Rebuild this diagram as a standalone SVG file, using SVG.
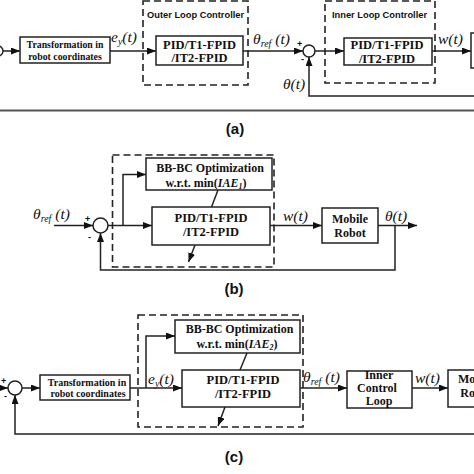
<svg xmlns="http://www.w3.org/2000/svg" width="474" height="474" viewBox="0 0 474 474">
<defs>
<marker id="ah" viewBox="0 0 9 7" refX="9" refY="3.5" markerWidth="9" markerHeight="7" markerUnits="userSpaceOnUse" orient="auto">
<path d="M0,0 L9,3.5 L0,7 z" fill="#111"/>
</marker>
<style>
.box{fill:#fff;stroke:#222;stroke-width:1.5}
.dash{fill:none;stroke:#222;stroke-width:1.6;stroke-dasharray:7 4}
.ln{fill:none;stroke:#222;stroke-width:1.5}
.arr{fill:none;stroke:#222;stroke-width:1.5;marker-end:url(#ah)}
.n{font-family:"Liberation Serif","Times New Roman",serif;font-weight:bold;fill:#111;text-anchor:middle}
.m{font-family:"Liberation Serif","Times New Roman",serif;font-style:italic;font-size:15.5px;fill:#111}
.s{font-family:"Liberation Sans",Arial,sans-serif;font-weight:bold;fill:#111}
.sg{font-family:"Liberation Sans",Arial,sans-serif;fill:#111;font-size:9px;font-weight:bold}
.p{font-family:"Liberation Sans",Arial,sans-serif;font-weight:bold;font-size:15px;fill:#111;text-anchor:middle}
</style>
</defs>
<rect width="474" height="474" fill="#fff"/>

<!-- ===== Part (a) ===== -->
<g id="a-outer-loop">
<rect class="dash" x="143" y="1" width="105" height="84"/>
<text class="s" x="147" y="18" font-size="9.3">Outer Loop Controller</text>
</g>
<g id="a-inner-loop">
<rect class="dash" x="325" y="1" width="110" height="82"/>
<text class="s" x="332" y="18" font-size="9.3">Inner Loop  Controller</text>
</g>
<g id="a-input">
<circle cx="-2" cy="51" r="5" fill="#fff" stroke="#222" stroke-width="1.5"/>
</g>
<g id="a-transform">
<rect class="box" x="20" y="37" width="90" height="26"/>
<text class="n" x="65" y="47.5" font-size="9.8">Transformation in</text>
<text class="n" x="65" y="59.5" font-size="9.8">robot coordinates</text>
</g>
<g id="a-pid-outer">
<rect class="box" x="156" y="36" width="87" height="29"/>
<text class="n" x="199.5" y="48.5" font-size="12.5">PID/T1-FPID</text>
<text class="n" x="199.5" y="62" font-size="12.5">/IT2-FPID</text>
</g>
<g id="a-sum">
<circle cx="309" cy="51" r="6" fill="#fff" stroke="#222" stroke-width="1.5"/>
<text class="sg" x="297" y="47">+</text>
<text class="sg" x="301" y="62">-</text>
</g>
<g id="a-pid-inner">
<rect class="box" x="344" y="38" width="88" height="27"/>
<text class="n" x="387" y="49" font-size="12.5">PID/T1-FPID</text>
<text class="n" x="387" y="62.5" font-size="12.5">/IT2-FPID</text>
</g>
<g id="a-robot">
<rect class="box" x="471" y="33" width="20" height="35"/>
</g>
<g id="a-labels">
<text class="m" x="111" y="42">e<tspan font-size="10" dy="3">y</tspan><tspan dy="-3">(t)</tspan></text>
<text class="m" x="253" y="44">θ<tspan font-size="10" dy="3">ref</tspan><tspan dy="-3"> (t)</tspan></text>
<text class="m" x="438" y="44">w(t)</text>
<text class="m" x="283" y="89">θ(t)</text>
</g>
<g id="a-connectors">
<line class="arr" x1="3" y1="51" x2="20" y2="51"/>
<line class="arr" x1="110" y1="51" x2="156" y2="51"/>
<line class="arr" x1="243" y1="51" x2="303" y2="51"/>
<line class="arr" x1="315" y1="51" x2="344" y2="51"/>
<line class="arr" x1="432" y1="51" x2="471" y2="51"/>
<polyline class="arr" points="474,96 309,96 309,57"/>
</g>
<line x1="0" y1="110.5" x2="474" y2="110.5" stroke="#555" stroke-width="2"/>
<text class="p" x="235" y="134">(a)</text>

<!-- ===== Part (b) ===== -->
<g id="b-controller">
<rect class="dash" x="112.5" y="155" width="161.5" height="112"/>
</g>
<g id="b-bbbc">
<rect class="box" x="146" y="158" width="126" height="32"/>
<text class="n" x="210" y="172" font-size="12">BB-BC Optimization</text>
<text class="n" x="206" y="186.5" font-size="12">w.r.t. min(<tspan font-style="italic">IAE<tspan font-size="8" dy="2">1</tspan></tspan><tspan dy="-2">)</tspan></text>
</g>
<g id="b-pid">
<rect class="box" x="152" y="207" width="118" height="38"/>
<text class="n" x="211" y="222" font-size="12.5">PID/T1-FPID</text>
<text class="n" x="211" y="235.5" font-size="12.5">/IT2-FPID</text>
</g>
<g id="b-sum">
<circle cx="100.5" cy="225.5" r="7.5" fill="#fff" stroke="#222" stroke-width="1.5"/>
<text class="sg" x="85" y="222">+</text>
<text class="sg" x="88" y="240">-</text>
</g>
<g id="b-robot">
<rect class="box" x="322" y="208" width="56" height="35"/>
<text class="n" x="350" y="223" font-size="12">Mobile</text>
<text class="n" x="350" y="237" font-size="12">Robot</text>
</g>
<g id="b-labels">
<text class="m" x="33" y="219">θ<tspan font-size="10" dy="3">ref</tspan><tspan dy="-3"> (t)</tspan></text>
<text class="m" x="283" y="221">w(t)</text>
<text class="m" x="385" y="221">θ(t)</text>
</g>
<g id="b-connectors">
<line class="arr" x1="54" y1="225.5" x2="93" y2="225.5"/>
<line class="arr" x1="108" y1="225.5" x2="152" y2="225.5"/>
<polyline class="arr" points="123,225.5 123,174.5 146,174.5"/>
<line class="ln" x1="211.5" y1="207" x2="218" y2="190"/>
<line class="arr" x1="195" y1="245" x2="188.5" y2="262"/>
<line class="arr" x1="270" y1="225.5" x2="322" y2="225.5"/>
<line class="arr" x1="378" y1="225.5" x2="417" y2="225.5"/>
<polyline class="arr" points="395,225.5 395,270 100.5,270 100.5,233"/>
</g>
<text class="p" x="234" y="294">(b)</text>

<!-- ===== Part (c) ===== -->
<g id="c-controller">
<rect class="dash" x="138" y="315" width="165" height="112"/>
</g>
<g id="c-bbbc">
<rect class="box" x="175" y="320" width="125" height="33"/>
<text class="n" x="239.5" y="333" font-size="12">BB-BC Optimization</text>
<text class="n" x="237" y="347.5" font-size="12">w.r.t. min(<tspan font-style="italic">IAE<tspan font-size="8" dy="2">2</tspan></tspan><tspan dy="-2">)</tspan></text>
</g>
<g id="c-pid">
<rect class="box" x="182" y="370" width="118" height="37"/>
<text class="n" x="243" y="383.5" font-size="12.5">PID/T1-FPID</text>
<text class="n" x="243" y="398" font-size="12.5">/IT2-FPID</text>
</g>
<g id="c-sum">
<circle cx="15" cy="388" r="7" fill="#fff" stroke="#222" stroke-width="1.5"/>
<text class="sg" x="1" y="384">+</text>
<text class="sg" x="4" y="399">-</text>
</g>
<g id="c-transform">
<rect class="box" x="40" y="375" width="90" height="25"/>
<text class="n" x="87" y="385.5" font-size="10">Transformation in</text>
<text class="n" x="88" y="397" font-size="10">robot coordinates</text>
</g>
<g id="c-inner">
<rect class="box" x="347" y="371" width="65" height="37"/>
<text class="n" x="379" y="379" font-size="12">Inner</text>
<text class="n" x="377" y="392" font-size="12">Control</text>
<text class="n" x="379" y="404.5" font-size="12">Loop</text>
</g>
<g id="c-robot">
<rect class="box" x="448" y="370" width="56" height="37"/>
<text class="n" x="476" y="383" font-size="12">Mobile</text>
<text class="n" x="476" y="397" font-size="12">Robot</text>
</g>
<g id="c-labels">
<text class="m" x="148" y="384">e<tspan font-size="10" dy="3">y</tspan><tspan dy="-3">(t)</tspan></text>
<text class="m" x="303" y="382">θ<tspan font-size="10" dy="3">ref</tspan><tspan dy="-3"> (t)</tspan></text>
<text class="m" x="415" y="383">w(t)</text>
</g>
<g id="c-connectors">
<line class="arr" x1="0" y1="388" x2="8" y2="388"/>
<line class="arr" x1="22" y1="388" x2="40" y2="388"/>
<line class="arr" x1="130" y1="388" x2="182" y2="388"/>
<polyline class="arr" points="146,388 146,336 175,336"/>
<line class="ln" x1="240" y1="370" x2="247" y2="353"/>
<line class="arr" x1="225" y1="407" x2="218" y2="426"/>
<line class="arr" x1="300" y1="388" x2="347" y2="388"/>
<line class="arr" x1="412" y1="388" x2="448" y2="388"/>
<polyline class="arr" points="474,434 15,434 15,395"/>
</g>
<text class="p" x="234" y="462">(c)</text>
</svg>
